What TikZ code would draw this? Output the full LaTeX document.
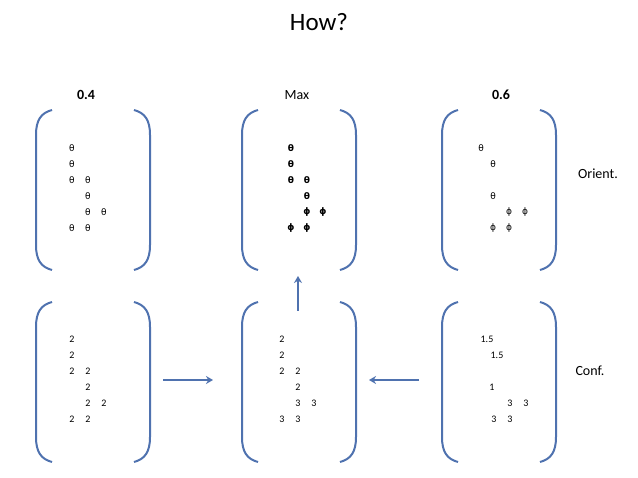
\documentclass[tikz,border=0pt]{standalone}
\usepackage{fontspec}
\usetikzlibrary{arrows.meta}
\setmainfont{Carlito}
\newfontfamily\symf{DejaVu Sans}
\begin{document}
\begin{tikzpicture}[x=1pt,y=-1pt,
  br/.style={draw=brk,line width=2pt},
  e/.style={font=\symf\fontsize{9}{10}\selectfont,inner sep=0pt},
  eb/.style={font=\symf\bfseries\fontsize{9}{10}\selectfont,inner sep=0pt},
  n/.style={font=\fontsize{10}{12}\selectfont,inner sep=0pt},
  lab/.style={font=\fontsize{14}{16}\selectfont},
  arr/.style={draw=brk,line width=1.5pt,-{Stealth[length=7pt,width=8pt]}}]
\definecolor{brk}{RGB}{79,114,175}
\useasboundingbox (0,0) rectangle (638,478);
\newcommand\mybr[3]{% x0 x1 ytop
 \draw[br] (#1+16,#3) .. controls (#1+5,#3+3) and (#1,#3+10) .. (#1,#3+25) -- (#1,#3+135) .. controls (#1,#3+150) and (#1+5,#3+157) .. (#1+16,#3+160);
 \draw[br] (#2-16,#3) .. controls (#2-5,#3+3) and (#2,#3+10) .. (#2,#3+25) -- (#2,#3+135) .. controls (#2,#3+150) and (#2-5,#3+157) .. (#2-16,#3+160);}
\mybr{36}{150}{110}\mybr{242}{356}{110}\mybr{442}{556}{110}
\mybr{36}{150}{302}\mybr{242}{356}{302}\mybr{442}{556}{302}
\node[font=\fontsize{25}{28}\selectfont] (title) at (319,22) {How?};
\node[lab,font=\bfseries\fontsize{14}{16}\selectfont] (l1) at (86,95) {0.4};
\node[lab] (l2) at (297,95) {Max};
\node[lab,font=\bfseries\fontsize{14}{16}\selectfont] (l3) at (501,95) {0.6};
\node[lab] (or) at (598,174) {Orient.};
\node[lab] (cf) at (590,371) {Conf.};
% left top
\foreach \x/\y [count=\i] in {72/148,72/164,72/180,88/180,88/196,88/212,104/212,72/228,88/228}
  \node[e] (a\i) at (\x,\y) {θ};
% middle top
\foreach \x/\y [count=\i] in {291/148,291/164,291/180,307/180,307/196}
  \node[eb] (b\i) at (\x,\y) {θ};
\foreach \x/\y [count=\i] in {307/212,323/212,291/228,307/228}
  \node[eb] (c\i) at (\x,\y) {ϕ};
% right top
\foreach \x/\y [count=\i] in {481/148,493/164,493/196}
  \node[e] (d\i) at (\x,\y) {θ};
\foreach \x/\y [count=\i] in {509/212,525/212,493/228,509/228}
  \node[e] (f\i) at (\x,\y) {ϕ};
% bottom
\foreach \x/\y [count=\i] in {72/339,72/355,72/371,88/371,88/387,88/403,104/403,72/419,88/419}
  \node[n] (g\i) at (\x,\y) {2};
\foreach \x/\y/\t [count=\i] in {282/339/2,282/355/2,282/371/2,298/371/2,298/387/2,298/403/3,314/403/3,282/419/3,298/419/3}
  \node[n] (h\i) at (\x,\y) {\t};
\foreach \x/\y/\t [count=\i] in {487/339/1.5,497/355/1.5,492/387/1,510/403/3,526/403/3,494/419/3,510/419/3}
  \node[n] (k\i) at (\x,\y) {\t};
\coordinate (p1) at (163,380); \coordinate (p2) at (213,380);
\coordinate (q1) at (419,380); \coordinate (q2) at (369,380);
\coordinate (u1) at (298,311); \coordinate (u2) at (298,276);
\draw[arr] (p1) -- (p2);
\draw[arr] (q1) -- (q2);
\draw[arr] (u1) -- (u2);
\end{tikzpicture}
\end{document}
